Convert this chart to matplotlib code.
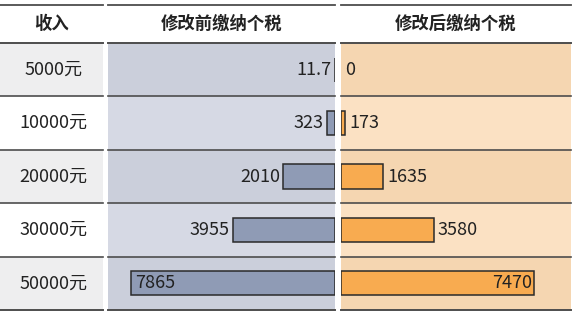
import matplotlib.pyplot as plt

plt.rcParams['font.family'] = ['Noto Sans CJK SC', 'DejaVu Sans']
plt.rcParams['font.size'] = 13

# 数据
income = ['5000元', '10000元', '20000元', '30000元', '50000元']
tax_before = [11.7, 323, 2010, 3955, 7865]
tax_after = [0, 173, 1635, 3580, 7470]
headers = ['收入', '修改前缴纳个税', '修改后缴纳个税']

W, H = 574, 314
fig = plt.figure(figsize=(W / 100, H / 100), dpi=100)

top_px, body_px, bottom_px = 5, 43, 310
row_h = (bottom_px - body_px) / len(income)
head_rows = (body_px - top_px) / row_h
ymin = -0.5 - head_rows


def make_ax(x0, x1):
    ax = fig.add_axes([x0 / W, (H - bottom_px) / H, (x1 - x0) / W, (bottom_px - top_px) / H])
    ax.set_ylim(len(income) - 0.5, ymin)
    ax.axis('off')
    return ax


ax_l = make_ax(0, 103)
ax_m = make_ax(108, 335)
ax_r = make_ax(341, 571)
ax_l.set_xlim(0, 1)
ax_m.set_xlim(8765, 0)
ax_r.set_xlim(0, 8880)

shades = {
    ax_l: ('#eeeeef', '#ffffff'),
    ax_m: ('#cbcfdb', '#d6d9e4'),
    ax_r: ('#f5d6b1', '#fbe1c3'),
}
line_c = '#4d4d4d'
for ax, (c1, c2) in shades.items():
    for i in range(len(income)):
        ax.axhspan(i - 0.5, i + 0.5, color=c1 if i % 2 == 0 else c2, lw=0, zorder=0)
    ax.axhline(ymin, color=line_c, lw=1.3, clip_on=False, zorder=3)
    for i in range(len(income) + 1):
        ax.axhline(i - 0.5, color=line_c, lw=1.2 if 0 < i < len(income) else 1.4,
                   clip_on=False, zorder=3)

head_y = ymin / 2 - 0.25
for ax, h in zip([ax_l, ax_m, ax_r], headers):
    x0, x1 = ax.get_xlim()
    ax.text((x0 + x1) / 2, head_y, h, ha='center', va='center',
            fontsize=12.5, fontweight='bold', color='#222222')

for i, s in enumerate(income):
    ax_l.text(0.52, i, s, ha='center', va='center', color='#222222')

y = list(range(len(income)))
bar_h = 0.45
edge = '#2a2a2a'
ax_m.barh(y, tax_before, height=bar_h, color='#8f9bb5',
          edgecolor=[edge if v > 0 else 'none' for v in tax_before], lw=1.1, zorder=2)
ax_r.barh(y, tax_after, height=bar_h, color='#f8ab50',
          edgecolor=[edge if v > 0 else 'none' for v in tax_after], lw=1.1, zorder=2)

for i, v in enumerate(tax_before):
    txt = f'{v:g}'
    if v > 6000:
        ax_m.annotate(txt, (v, i), xytext=(3, 0), textcoords='offset points',
                      ha='left', va='center', color='#222222')
    else:
        ax_m.annotate(txt, (v, i), xytext=(-2, 0), textcoords='offset points',
                      ha='right', va='center', color='#222222')

for i, v in enumerate(tax_after):
    txt = f'{v:g}'
    if v > 6000:
        ax_r.annotate(txt, (v, i), xytext=(-2, 0), textcoords='offset points',
                      ha='right', va='center', color='#222222')
    else:
        ax_r.annotate(txt, (v, i), xytext=(3, 0), textcoords='offset points',
                      ha='left', va='center', color='#222222')

fig.savefig('out.png', dpi=100)
